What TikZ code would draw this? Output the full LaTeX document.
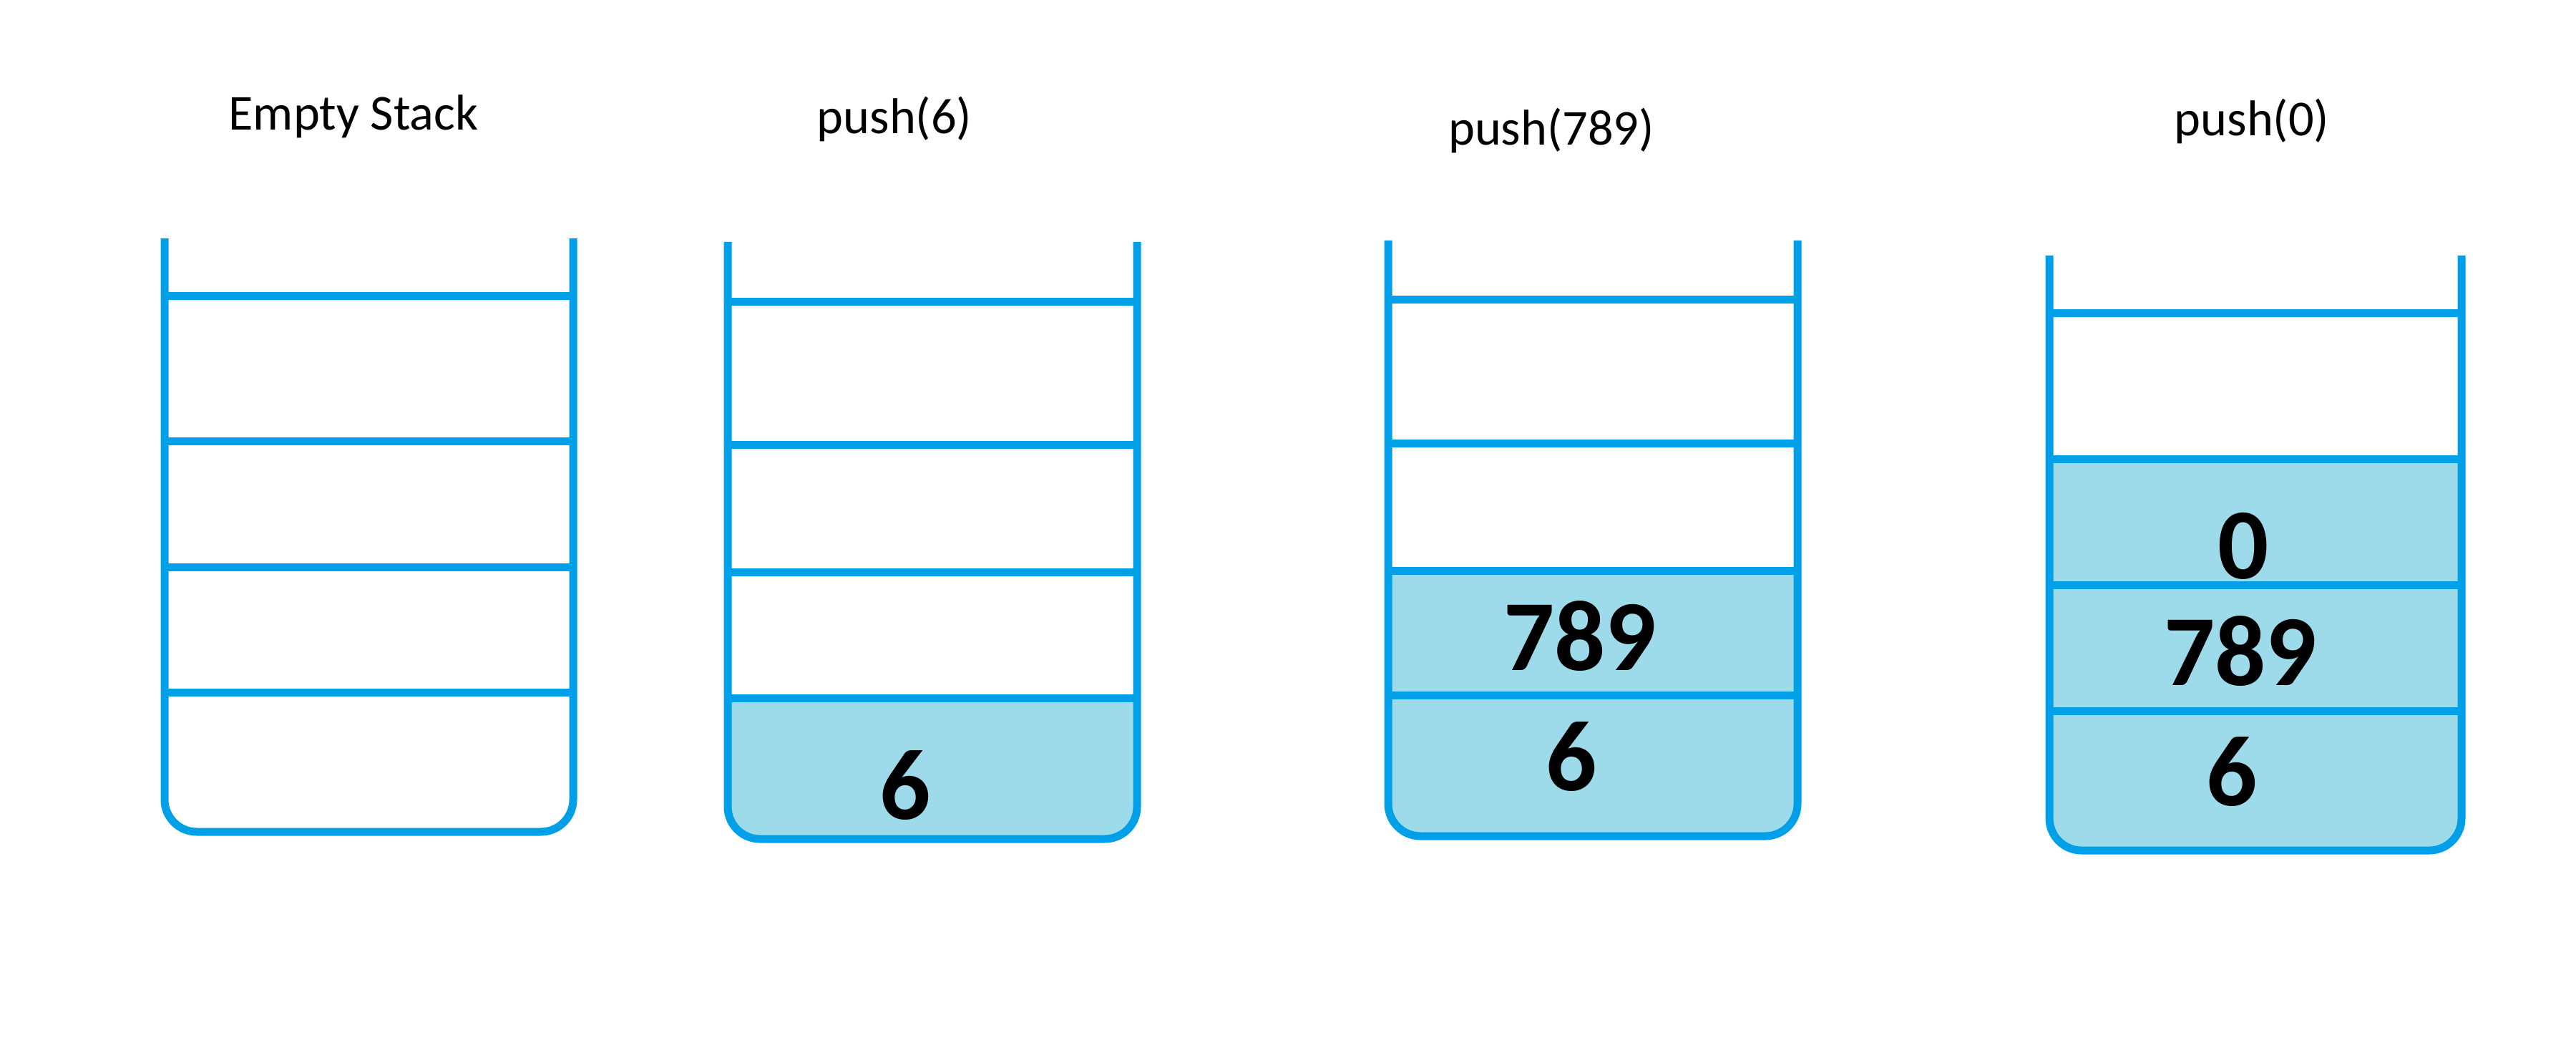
\documentclass[tikz,border=0pt]{standalone}
\usepackage{fontspec}
\setmainfont{Carlito}
\usepackage{tikz}
\definecolor{stackblue}{RGB}{0,160,233}
\definecolor{cellblue}{RGB}{157,219,235}
\tikzstyle{wall} = [line width=0.11cm, draw=stackblue]
\tikzstyle{cell} = [fill=cellblue]
\tikzstyle{title} = [anchor=base, inner sep=0pt, font=\fontsize{20}{24}\selectfont]
\tikzstyle{val} = [inner sep=0pt, font=\fontsize{40}{48}\selectfont\bfseries]

\begin{document}
\begin{tikzpicture}
            \useasboundingbox (0,0) rectangle (36,14.63);

            % Titles above the stacks
            \node[title] (1) at (4.94, 12.81) {Empty Stack};
            \node[title] (2) at (12.50, 12.76) {push(6)};
            \node[title] (3) at (21.68, 12.60) {push(789)};
            \node[title] (4) at (31.47, 12.73) {push(0)};

            % Fill the used cells
            \fill[cell, rounded corners=0.45cm] (10.17,4.88) -- (10.17,2.91) -- (15.89,2.91) -- (15.89,4.88);
            \fill[cell, rounded corners=0.45cm] (19.40,6.65) -- (19.40,2.95) -- (25.12,2.95) -- (25.12,6.65);
            \fill[cell, rounded corners=0.45cm] (28.64,8.21) -- (28.64,2.75) -- (34.40,2.75) -- (34.40,8.21);

            % Empty stack
            \draw[wall, rounded corners=0.45cm] (2.30,11.30) -- (2.30,3.01) -- (8.01,3.01) -- (8.01,11.30);
            \draw[wall] (2.30,10.49) -- (8.01,10.49);
            \draw[wall] (2.30,8.46) -- (8.01,8.46);
            \draw[wall] (2.30,6.70) -- (8.01,6.70);
            \draw[wall] (2.30,4.96) -- (8.01,4.96);

            % Stack after push(6)
            \draw[wall, rounded corners=0.45cm] (10.17,11.25) -- (10.17,2.91) -- (15.89,2.91) -- (15.89,11.25);
            \draw[wall] (10.17,10.41) -- (15.89,10.41);
            \draw[wall] (10.17,8.41) -- (15.89,8.41);
            \draw[wall] (10.17,6.63) -- (15.89,6.63);
            \draw[wall] (10.17,4.88) -- (15.89,4.88);

            % Stack after push(789)
            \draw[wall, rounded corners=0.45cm] (19.40,11.27) -- (19.40,2.95) -- (25.12,2.95) -- (25.12,11.27);
            \draw[wall] (19.40,10.44) -- (25.12,10.44);
            \draw[wall] (19.40,8.43) -- (25.12,8.43);
            \draw[wall] (19.40,6.65) -- (25.12,6.65);
            \draw[wall] (19.40,4.92) -- (25.12,4.92);

            % Stack after push(0)
            \draw[wall, rounded corners=0.45cm] (28.64,11.06) -- (28.64,2.75) -- (34.40,2.75) -- (34.40,11.06);
            \draw[wall] (28.64,10.25) -- (34.40,10.25);
            \draw[wall] (28.64,8.21) -- (34.40,8.21);
            \draw[wall] (28.64,6.45) -- (34.40,6.45);
            \draw[wall] (28.64,4.70) -- (34.40,4.70);

            % Values in the cells
            \node[val] (a6) at (12.65, 3.66) {6};
            \node[val] (b789) at (22.08, 5.75) {789};
            \node[val] (b6) at (21.96, 4.06) {6};
            \node[val] (c0) at (31.35, 7.00) {0};
            \node[val] (c789) at (31.31, 5.54) {789};
            \node[val] (c6) at (31.19, 3.85) {6};
        \end{tikzpicture}
\end{document}
